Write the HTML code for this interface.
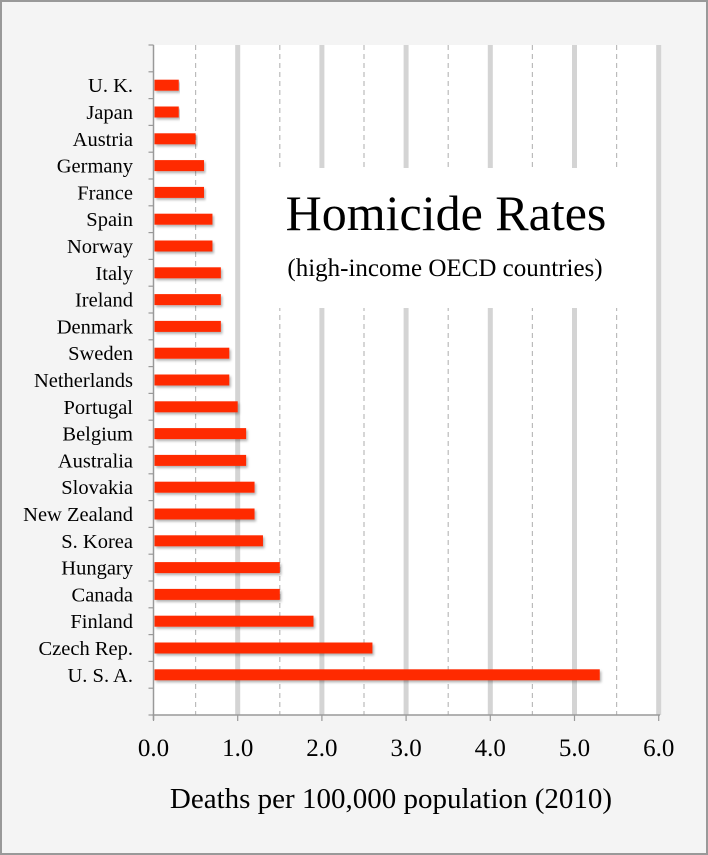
<!DOCTYPE html>
<html><head><meta charset="utf-8"><style>
body{margin:0;background:#fff}
svg{display:block;font-family:"Liberation Serif",serif}
</style></head><body>
<svg width="708" height="855">
<defs><filter id="sh" x="-5%" y="-30%" width="110%" height="180%"><feDropShadow dx="1.5" dy="2" stdDeviation="1.2" flood-color="#000" flood-opacity="0.3"/></filter></defs>
<rect x="1" y="1" width="706" height="853" fill="#f4f4f4" stroke="#999" stroke-width="2"/>
<rect x="153.5" y="45" width="506" height="670" fill="#fff"/>
<g id="grid"></g>
<g id="bars"></g>
<g id="axes"></g>
<rect x="268" y="168" width="356" height="140" fill="#fff"/>
<text x="446" y="230" font-size="50" text-anchor="middle">Homicide Rates</text>
<text x="445" y="276" font-size="25" text-anchor="middle">(high-income OECD countries)</text>
<text x="391" y="808" font-size="29" text-anchor="middle">Deaths per 100,000 population (2010)</text>
</svg>
<script>
const countries=["U. K.","Japan","Austria","Germany","France","Spain","Norway","Italy","Ireland","Denmark","Sweden","Netherlands","Portugal","Belgium","Australia","Slovakia","New Zealand","S. Korea","Hungary","Canada","Finland","Czech Rep.","U. S. A."];
const rates=[0.3,0.3,0.5,0.6,0.6,0.7,0.7,0.8,0.8,0.8,0.9,0.9,1.0,1.1,1.1,1.2,1.2,1.3,1.5,1.5,1.9,2.6,5.3];
const xTicks=[0,1,2,3,4,5,6];
const xTickLabels=["0.0","1.0","2.0","3.0","4.0","5.0","6.0"];
const NS="http://www.w3.org/2000/svg";
const x0=153.5,xs=84.2,plotTop=45,band=26.8;
const X=v=>x0+v*xs;
const Y=i=>plotTop+band*(i+1)+band/2;
function mk(t,a,p){const e=document.createElementNS(NS,t);for(const k in a)e.setAttribute(k,a[k]);p.appendChild(e);return e;}
const grid=document.getElementById('grid'),bars=document.getElementById('bars'),axes=document.getElementById('axes');
for(let v=0.5;v<=5.5;v+=1){const l=mk('line',{x1:X(v),x2:X(v),y1:plotTop,y2:715,stroke:'#bbb','stroke-width':1.2,'stroke-dasharray':'5,4'},grid);

}
for(let v=1;v<=6;v++){const l=mk('line',{x1:X(v),x2:X(v),y1:plotTop,y2:715,stroke:'#d4d4d4','stroke-width':5},grid);

}
countries.forEach((c,i)=>{
const r=mk('rect',{x:x0+1,y:Y(i)-5.5,width:X(rates[i])-x0-1,height:11,fill:'#ff2a00',filter:'url(#sh)'},bars);


const t=mk('text',{x:133,y:Y(i)+7,'font-size':20.5,'text-anchor':'end'},axes);t.textContent=c;

});
const ya=mk('line',{x1:x0,x2:x0,y1:plotTop,y2:720,stroke:'#999','stroke-width':1.5},axes);


const xa=mk('line',{x1:x0-1,x2:660,y1:715,y2:715,stroke:'#999','stroke-width':1.5},axes);


for(let i=0;i<=25;i++){const tk=mk('line',{x1:x0-5,x2:x0,y1:plotTop+band*i,y2:plotTop+band*i,stroke:'#999','stroke-width':1.2},axes);

}
xTicks.forEach((v,i)=>{const tk=mk('line',{x1:X(v),x2:X(v),y1:715,y2:721,stroke:'#999','stroke-width':1.2},axes);


const t=mk('text',{x:X(v),y:756,'font-size':25,'text-anchor':'middle'},axes);t.textContent=xTickLabels[i];

});
</script>
</body></html>
